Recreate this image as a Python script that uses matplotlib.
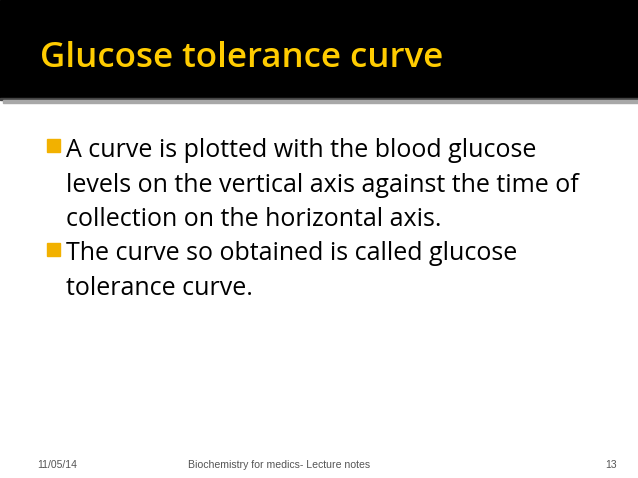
import matplotlib
matplotlib.use("Agg")
import matplotlib.pyplot as plt
from matplotlib.patches import Rectangle

title = "Glucose tolerance curve"
bullets = [
    ["A curve is plotted with the blood glucose",
     "levels on the vertical axis against the time of",
     "collection on the horizontal axis."],
    ["The curve so obtained is called glucose",
     "tolerance curve."],
]
footer_left = "11/05/14"
footer_mid = "Biochemistry for medics- Lecture notes"
footer_right = "13"

W, H = 638, 478
fig = plt.figure(figsize=(W / 100, H / 100), dpi=100)
ax = fig.add_axes([0, 0, 1, 1])
ax.set_xlim(0, W)
ax.set_ylim(H, 0)
ax.axis("off")
renderer = fig.canvas.get_renderer()


def fit(t, target_w):
    w = t.get_window_extent(renderer).width
    t.set_fontsize(t.get_fontsize() * target_w / w)


# header band
ax.add_patch(Rectangle((0, 0), W, 98, color="black", zorder=1))
ax.add_patch(Rectangle((0, 98), W, 2, color="#444444", zorder=1))
ax.add_patch(Rectangle((3, 100), W, 2.5, color="#a8a8a8", zorder=1))

tt = ax.text(40, 67, title, color="#FFCC00", fontsize=24, fontweight="semibold",
             family="Open Sans", va="baseline", ha="left", zorder=2)
fit(tt, 404)

base = 157
step = 34.5
i = 0
first = None
for b in bullets:
    ax.add_patch(Rectangle((47, base + i * step - 18), 12.5, 13,
                           color="#F2B100", zorder=2))
    for line in b:
        t = ax.text(66, base + i * step, line, color="black", fontsize=17,
                    family="Open Sans", va="baseline", ha="left", zorder=2)
        if first is None:
            first = t
        i += 1
# scale body font so the first line matches its width, apply to all
w = first.get_window_extent(renderer).width
scale = 471 / w
for t in ax.texts[1:]:
    t.set_fontsize(17 * scale)

fy = 468
ax.text(37, fy, footer_left, color="#555555", fontsize=7.5,
        family="Liberation Sans", va="baseline", ha="left")
ax.text(188, fy, footer_mid, color="#555555", fontsize=7.6,
        family="Liberation Sans", va="baseline", ha="left")
ax.text(617, fy, footer_right, color="#555555", fontsize=7.5,
        family="Liberation Sans", va="baseline", ha="right")

fig.savefig("out.png", dpi=100)
